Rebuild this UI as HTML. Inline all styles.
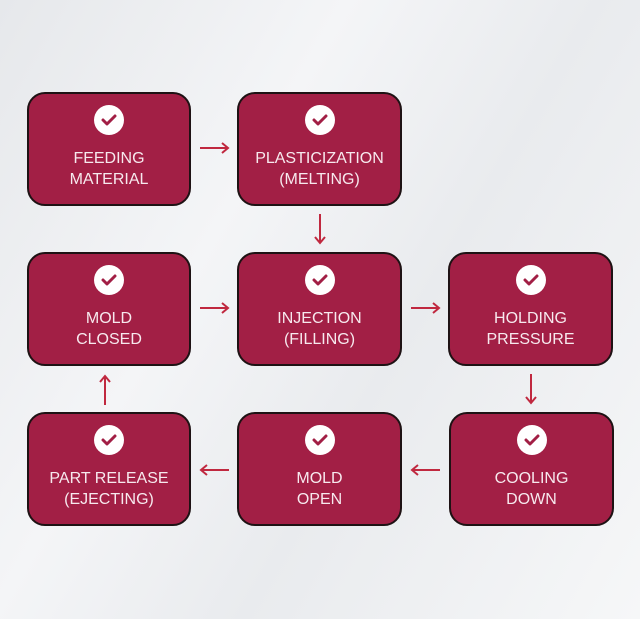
<!DOCTYPE html>
<html><head><style>
body{margin:0;width:640px;height:619px;overflow:hidden;background:linear-gradient(120deg,#e6e8eb 0%,#f4f5f7 35%,#e9ebee 60%,#f6f7f8 100%);font-family:"Liberation Sans",sans-serif;position:relative}
.b{position:absolute;width:164px;height:114px;background:#a21f45;border:2px solid #1e1214;border-radius:18px;box-sizing:border-box}
.c{position:absolute;left:50%;top:11px;margin-left:-15px;width:30px;height:30px;border-radius:50%;background:#fff}
.c svg{position:absolute;left:7px;top:8px}
.t{position:absolute;left:0;right:0;top:54px;text-align:center;color:#f7e9ee;font-size:16px;line-height:21px}
svg.a{position:absolute;left:0;top:0}
</style></head><body>
<div class="b" style="left:27px;top:92px"><div class="c"><svg width="16" height="14"><path d="M2 7 L6 11 L14 3" stroke="#a21f45" stroke-width="3" fill="none" stroke-linecap="round" stroke-linejoin="round"/></svg></div><div class="t">FEEDING<br>MATERIAL</div></div>
<div class="b" style="left:237px;top:92px;width:165px"><div class="c"><svg width="16" height="14"><path d="M2 7 L6 11 L14 3" stroke="#a21f45" stroke-width="3" fill="none" stroke-linecap="round" stroke-linejoin="round"/></svg></div><div class="t">PLASTICIZATION<br>(MELTING)</div></div>
<div class="b" style="left:27px;top:252px"><div class="c"><svg width="16" height="14"><path d="M2 7 L6 11 L14 3" stroke="#a21f45" stroke-width="3" fill="none" stroke-linecap="round" stroke-linejoin="round"/></svg></div><div class="t">MOLD<br>CLOSED</div></div>
<div class="b" style="left:237px;top:252px;width:165px"><div class="c"><svg width="16" height="14"><path d="M2 7 L6 11 L14 3" stroke="#a21f45" stroke-width="3" fill="none" stroke-linecap="round" stroke-linejoin="round"/></svg></div><div class="t">INJECTION<br>(FILLING)</div></div>
<div class="b" style="left:448px;top:252px;width:165px"><div class="c"><svg width="16" height="14"><path d="M2 7 L6 11 L14 3" stroke="#a21f45" stroke-width="3" fill="none" stroke-linecap="round" stroke-linejoin="round"/></svg></div><div class="t">HOLDING<br>PRESSURE</div></div>
<div class="b" style="left:27px;top:412px"><div class="c"><svg width="16" height="14"><path d="M2 7 L6 11 L14 3" stroke="#a21f45" stroke-width="3" fill="none" stroke-linecap="round" stroke-linejoin="round"/></svg></div><div class="t">PART RELEASE<br>(EJECTING)</div></div>
<div class="b" style="left:237px;top:412px;width:165px"><div class="c"><svg width="16" height="14"><path d="M2 7 L6 11 L14 3" stroke="#a21f45" stroke-width="3" fill="none" stroke-linecap="round" stroke-linejoin="round"/></svg></div><div class="t">MOLD<br>OPEN</div></div>
<div class="b" style="left:449px;top:412px;width:165px"><div class="c"><svg width="16" height="14"><path d="M2 7 L6 11 L14 3" stroke="#a21f45" stroke-width="3" fill="none" stroke-linecap="round" stroke-linejoin="round"/></svg></div><div class="t">COOLING<br>DOWN</div></div>
<svg class="a" width="640" height="619" fill="none" stroke="#c0283f" stroke-width="2">
<path d="M200 148 H228 M222 143 L228 148 L222 153"/>
<path d="M320 214 V243 M315 237 L320 243 L325 237"/>
<path d="M200 308 H228 M222 303 L228 308 L222 313"/>
<path d="M411 308 H439 M433 303 L439 308 L433 313"/>
<path d="M531 374 V403 M526 397 L531 403 L536 397"/>
<path d="M440 470 H412 M418 465 L412 470 L418 475"/>
<path d="M229 470 H201 M207 465 L201 470 L207 475"/>
<path d="M105 405 V376 M100 382 L105 376 L110 382"/>
</svg>
</body></html>
